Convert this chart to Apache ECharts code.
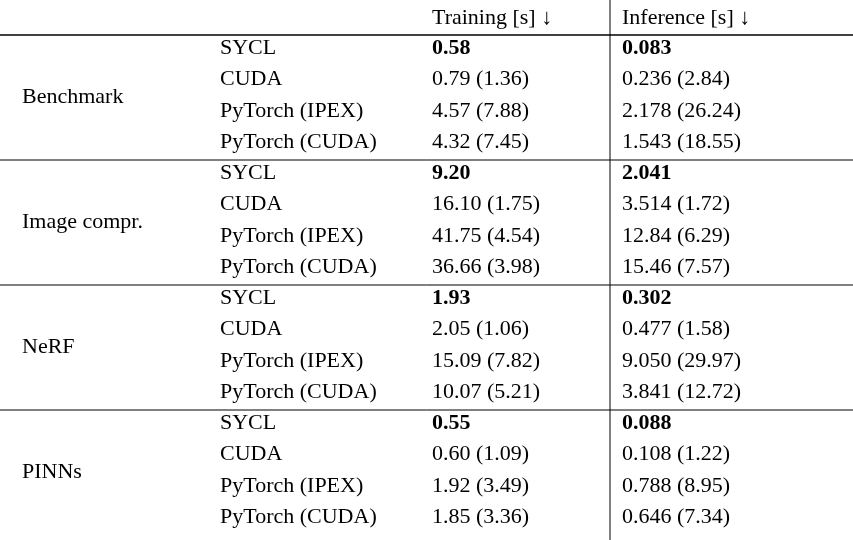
<!DOCTYPE html>
<html><head><meta charset="utf-8">
<script src="https://cdn.jsdelivr.net/npm/echarts@6/dist/echarts.min.js"></script>
<style>html,body{margin:0;background:#fff}#c{width:853px;height:540px}</style>
</head><body><div id="c"></div>
<script>
var headers = ['Training [s] \u2193', 'Inference [s] \u2193'];
var groups = ['Benchmark', 'Image compr.', 'NeRF', 'PINNs'];
var methods = ['SYCL', 'CUDA', 'PyTorch (IPEX)', 'PyTorch (CUDA)'];
var training = [
	['0.58', '0.79 (1.36)', '4.57 (7.88)', '4.32 (7.45)'],
	['9.20', '16.10 (1.75)', '41.75 (4.54)', '36.66 (3.98)'],
	['1.93', '2.05 (1.06)', '15.09 (7.82)', '10.07 (5.21)'],
	['0.55', '0.60 (1.09)', '1.92 (3.49)', '1.85 (3.36)']
];
var inference = [
	['0.083', '0.236 (2.84)', '2.178 (26.24)', '1.543 (18.55)'],
	['2.041', '3.514 (1.72)', '12.84 (6.29)', '15.46 (7.57)'],
	['0.302', '0.477 (1.58)', '9.050 (29.97)', '3.841 (12.72)'],
	['0.088', '0.108 (1.22)', '0.788 (8.95)', '0.646 (7.34)']
];

(function() {
	var chart = echarts.init(document.getElementById('c'));
	var els = [];
	function txt(x, y, s, bold) {
		els.push({
			type: 'text', x: x, y: y,
			style: {
				text: s, fontFamily: 'Liberation Serif', fontSize: 22,
				fontWeight: bold ? 'bold' : 'normal', fill: '#000', verticalAlign: 'middle'
			}
		});
	}
	function line(x1, y1, x2, y2, w) {
		els.push({ type: 'line', shape: { x1: x1, y1: y1, x2: x2, y2: y2 }, style: { stroke: '#000', lineWidth: w } });
	}
	txt(432, 18, headers[0]);
	txt(622, 18, headers[1]);
	line(0, 35, 853, 35, 1.5);
	line(610, 0, 610, 540, 1);
	var groupTop = [35, 160, 285, 410];
	for (var g = 0; g < groups.length; g++) {
		var gy = groupTop[g];
		if (g > 0) line(0, gy, 853, gy, 1);
		txt(22, gy + 62, groups[g]);
		for (var r = 0; r < methods.length; r++) {
			var y = gy + 13 + r * 31.5;
			txt(220, y, methods[r]);
			txt(432, y, training[g][r], r === 0);
			txt(622, y, inference[g][r], r === 0);
		}
	}
	chart.setOption({ animation: false, graphic: { elements: els } });
})();
</script></body></html>
